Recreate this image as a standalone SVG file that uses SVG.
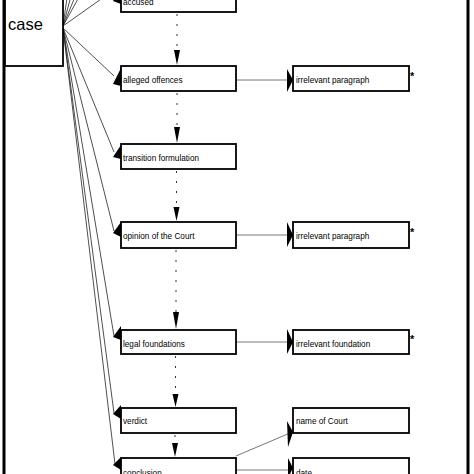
<svg xmlns="http://www.w3.org/2000/svg" width="474" height="474" viewBox="0 0 474 474">
<style>
.box{fill:#fff;stroke:#000;stroke-width:1.8}
.lbl{font-family:"Liberation Sans",Arial,sans-serif;font-size:8.2px;fill:#000}
.fan{stroke:#222;stroke-width:0.8;fill:none}
.hl{stroke:#666;stroke-width:0.9;fill:none}
.dash{stroke:#333;stroke-width:1;stroke-dasharray:2 8;fill:none}
.ah{fill:#000;stroke:none}
.star{font-family:"Liberation Sans",Arial,sans-serif;font-size:11px;font-weight:bold;fill:#000}
</style>
<rect x="0" y="0" width="474" height="474" fill="#fff"/>
<line x1="4" y1="0" x2="4" y2="474" stroke="#000" stroke-width="3"/>
<line x1="468" y1="0" x2="468" y2="474" stroke="#000" stroke-width="3"/>

<g id="connectors">
  <!-- fan from case -->
  <line class="fan" x1="63" y1="26" x2="67" y2="-2"/>
  <line class="fan" x1="63" y1="26" x2="70.5" y2="-2"/>
  <line class="fan" x1="63" y1="26" x2="74.5" y2="-2"/>
  <line class="fan" x1="63" y1="26" x2="78.5" y2="-2"/>
  <line class="fan" x1="63" y1="26" x2="104" y2="-3"/>
  <line class="fan" x1="63" y1="28" x2="114" y2="76"/>
  <line class="fan" x1="63" y1="28" x2="114" y2="152"/>
  <line class="fan" x1="63" y1="28" x2="114" y2="231"/>
  <line class="fan" x1="63" y1="28" x2="114" y2="336"/>
  <line class="fan" x1="63" y1="28" x2="114" y2="413"/>
  <line class="fan" x1="63" y1="28" x2="115" y2="464"/>
  <polygon class="ah" points="121,-12 121,4 113,1"/>
  <polygon class="ah" points="121,68 121,86 113,84"/>
  <polygon class="ah" points="121,145 121,159 113,157"/>
  <polygon class="ah" points="121,222 121,237 113,233"/>
  <polygon class="ah" points="121,326 121,340 113,337"/>
  <polygon class="ah" points="121,405 121,419 113,414"/>
  <polygon class="ah" points="121,457 121,470 113,465"/>

  <!-- sequence (dashed) -->
  <line class="dash" x1="177" y1="14" x2="177" y2="52"/>
  <polygon class="ah" points="174,50 180,50 177,65"/>
  <line class="dash" x1="177" y1="93" x2="177" y2="129"/>
  <polygon class="ah" points="174,127 180,127 177,143"/>
  <line class="dash" x1="176.5" y1="171" x2="176.5" y2="209"/>
  <polygon class="ah" points="173.5,207 179.5,207 176.5,221"/>
  <line class="dash" x1="176" y1="250" x2="176" y2="314"/>
  <polygon class="ah" points="173,312 179,312 176,329"/>
  <line class="dash" x1="175.5" y1="356" x2="175.5" y2="396"/>
  <polygon class="ah" points="172.5,394 178.5,394 175.5,407"/>
  <line class="dash" x1="175" y1="435" x2="175" y2="444"/>
  <polygon class="ah" points="172,443 178,443 175,457"/>

  <!-- horizontal to right column -->
  <line class="hl" x1="236" y1="80" x2="288" y2="80"/>
  <polygon class="ah" points="287,69 293,80 287,92"/>
  <line class="hl" x1="236" y1="235" x2="288" y2="235"/>
  <polygon class="ah" points="287,222 293,235 287,247"/>
  <line class="hl" x1="236" y1="342" x2="288" y2="342"/>
  <polygon class="ah" points="287,329 293,342 287,354"/>
  <line class="hl" x1="236" y1="456" x2="290" y2="433"/>
  <polygon class="ah" points="287,421 293,432 288,447"/>
  <line class="hl" x1="236" y1="470" x2="289" y2="470"/>
  <polygon class="ah" points="288,458 293,468 288,478"/>
</g>

<g id="case">
  <rect class="box" x="5" y="-10" width="58" height="76"/>
  <text x="8" y="30" font-family="'Liberation Sans',Arial,sans-serif" font-size="16.5px" fill="#000">case</text>
</g>
<g id="accused">
  <rect class="box" x="121" y="-13" width="115" height="25"/>
  <text class="lbl" x="123" y="5">accused</text>
</g>
<g id="alleged-offences">
  <rect class="box" x="121" y="66" width="115" height="25"/>
  <text class="lbl" x="123" y="83">alleged offences</text>
</g>
<g id="irrelevant-paragraph-1">
  <rect class="box" x="293" y="66" width="116" height="25"/>
  <text class="lbl" x="296" y="83">irrelevant paragraph</text>
  <text class="star" x="410" y="80">*</text>
</g>
<g id="transition-formulation">
  <rect class="box" x="121" y="144" width="115" height="25"/>
  <text class="lbl" x="123" y="161">transition formulation</text>
</g>
<g id="opinion">
  <rect class="box" x="121" y="222" width="115" height="26"/>
  <text class="lbl" x="123" y="239">opinion of the Court</text>
</g>
<g id="irrelevant-paragraph-2">
  <rect class="box" x="293" y="222" width="116" height="26"/>
  <text class="lbl" x="296" y="239">irrelevant paragraph</text>
  <text class="star" x="410" y="236">*</text>
</g>
<g id="legal-foundations">
  <rect class="box" x="121" y="330" width="115" height="24"/>
  <text class="lbl" x="123" y="347">legal foundations</text>
</g>
<g id="irrelevant-foundation">
  <rect class="box" x="293" y="330" width="116" height="24"/>
  <text class="lbl" x="296" y="347">irrelevant foundation</text>
  <text class="star" x="410" y="343">*</text>
</g>
<g id="verdict">
  <rect class="box" x="121" y="408" width="115" height="25"/>
  <text class="lbl" x="123" y="424">verdict</text>
</g>
<g id="name-of-court">
  <rect class="box" x="293" y="408" width="116" height="25"/>
  <text class="lbl" x="296" y="424">name of Court</text>
</g>
<g id="conclusion">
  <rect class="box" x="121" y="458" width="115" height="25"/>
  <text class="lbl" x="123" y="476">conclusion</text>
</g>
<g id="date">
  <rect class="box" x="293" y="458" width="116" height="25"/>
  <text class="lbl" x="296" y="476">date</text>
</g>
</svg>
